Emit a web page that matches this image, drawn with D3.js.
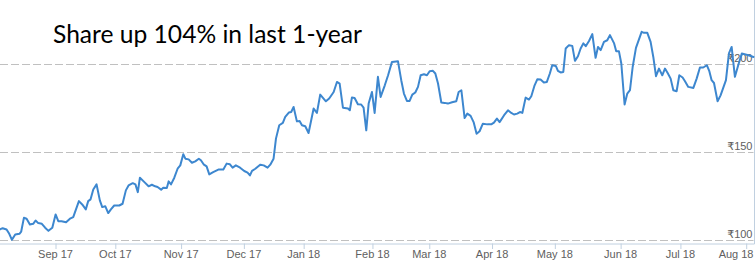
<!DOCTYPE html>
<html><head><meta charset="utf-8">
<script src="https://cdn.jsdelivr.net/npm/d3@7"></script>
<style>html,body{margin:0;padding:0;background:#fff;}svg{display:block}</style>
</head><body>
<svg id="c" width="756" height="264"></svg>
<script>
// trading-session index (0 ≈ mid Aug 2017) and closing price (₹)
const sessions = [-0.4,0.5,1.8,2.7,3.6,4.7,6.1,6.7,7.6,8.5,
9.6,10.7,11.5,12.4,13.6,14.7,15.8,17.1,18.2,19.1,
20.2,21.7,23.0,24.1,26.0,27.1,28.3,29.1,29.9,30.8,
31.9,33.0,33.8,34.8,35.8,36.7,37.8,39.5,40.6,41.7,
42.6,44.0,44.9,45.7,46.4,47.9,49.3,50.4,51.5,52.3,
53.5,54.2,55.4,56.0,56.8,57.9,59.0,59.9,60.9,61.6,
62.7,63.8,64.9,66.1,66.8,67.7,68.7,69.6,70.9,72.8,
74.3,75.4,76.5,77.4,78.5,79.9,81.3,82.4,83.2,83.9,
85.0,85.9,86.7,87.8,89.1,90.0,91.1,91.9,93.0,94.2,
95.0,96.2,97.0,97.8,98.9,99.8,100.6,101.7,102.8,104.5,
105.6,106.7,108.6,109.7,111.2,112.3,113.2,114.3,116.0,116.6,
117.3,118.2,119.3,120.4,121.2,122.1,122.9,124.0,124.9,126.0,
126.9,128.3,129.4,130.7,132.7,133.8,134.7,135.7,136.6,137.5,
138.5,139.4,140.3,141.4,142.4,143.3,144.4,145.2,146.1,147.2,
148.3,149.4,150.8,152.2,153.0,153.9,155.0,155.9,157.0,158.0,
159.0,160.0,161.1,162.6,163.9,164.8,165.8,166.7,168.2,169.5,
170.6,171.5,172.6,173.5,174.3,175.4,176.5,177.3,178.4,179.3,
180.4,181.5,182.5,183.5,184.3,185.5,186.2,187.1,188.0,188.8,
189.9,191.0,191.9,192.9,193.8,194.7,195.5,196.6,197.7,198.8,
199.6,200.5,201.6,202.7,203.6,205.0,205.7,206.6,207.4,208.5,
209.4,210.3,211.2,212.3,214.2,215.0,216.1,217.2,218.1,219.0,
220.0,221.1,222.0,222.9,223.9,224.8,225.9,226.8,227.9,228.7,
229.8,231.5,232.6,233.7,234.8,236.0,236.8,237.6,238.4,239.6,
240.6,242.4,243.4,244.3,245.4,246.5,247.7,249.9,251.6];

const prices = [106.0,106.7,106.0,103.5,100.1,103.1,103.5,104.8,112.6,112.1,
108.8,109.2,111.1,109.6,109.2,107.0,105.2,107.0,114.5,110.7,
110.7,110.1,112.1,113.0,122.1,120.2,117.4,122.1,123.1,128.7,
131.6,122.5,118.7,119.2,115.3,117.4,119.6,119.6,120.6,128.2,
131.0,132.3,131.6,127.2,135.4,132.9,130.5,131.4,130.5,130.1,
128.6,129.7,129.5,133.3,131.6,135.4,140.5,142.4,148.7,146.2,
145.8,143.9,144.7,146.2,145.3,143.0,141.8,137.3,138.6,140.1,
140.0,143.4,143.0,141.1,142.4,141.1,139.2,138.3,136.7,139.3,
140.5,141.8,142.8,142.4,141.1,142.8,146.2,157.6,165.2,166.5,
169.9,172.4,172.7,175.6,167.4,167.6,165.2,164.6,160.8,174.7,
172.2,182.6,178.8,180.4,184.1,189.8,188.9,175.2,174.7,173.7,
180.9,180.7,177.1,177.0,175.2,162.3,177.5,184.1,172.2,192.7,
181.3,187.9,193.6,201.2,201.6,190.8,183.2,179.0,179.0,182.6,
183.8,187.0,193.6,194.2,193.6,195.9,196.1,194.6,188.9,178.1,
177.9,177.5,178.3,178.8,184.1,185.1,169.3,171.8,170.5,167.0,
160.4,161.8,166.1,165.7,165.7,166.7,169.0,167.0,170.9,173.7,
172.2,171.3,171.8,172.7,172.2,180.9,179.8,181.7,187.9,191.3,
191.2,189.5,189.8,194.6,199.3,198.9,196.1,195.2,195.5,208.8,
210.7,210.3,201.8,204.4,208.8,211.7,210.1,213.1,217.0,203.5,
209.7,207.9,212.6,213.5,216.4,211.7,207.3,207.3,200.3,177.0,
183.2,185.1,198.3,209.2,218.3,217.7,217.7,212.6,204.0,193.1,
197.4,193.6,197.4,194.9,191.7,185.1,184.5,193.6,192.3,190.2,
187.0,186.4,191.7,198.0,198.0,199.3,196.1,190.8,189.2,178.8,
182.2,190.8,206.0,209.7,192.7,199.3,206.0,205.0,204.0];

const monthLabels = ["Sep 17","Oct 17","Nov 17","Dec 17","Jan 18","Feb 18","Mar 18","Apr 18","May 18","Jun 18","Jul 18","Aug 18"];
const monthSessions = [18,38,60,81,101,124,143,164,185,207,227,249];
const priceTicks = [100,150,200];
const titleText = "Share up 104% in last 1-year";

const svg = d3.select("#c");
const x = d3.scaleLinear().domain([0,250]).range([1.18,748.68]);
const y = d3.scaleLinear().domain([100,200]).range([240,64]);
const axisY = 243.5, rightX = 754.5;
const labelFont = "'Liberation Sans','DejaVu Sans',Arial,sans-serif";

svg.append("rect").attr("width",756).attr("height",264).attr("fill","#fff");

// grid lines
svg.append("g").selectAll("line").data(priceTicks).join("line")
  .attr("x1",0).attr("x2",rightX-1)
  .attr("y1",d=>y(d)+0.5).attr("y2",d=>y(d)+0.5)
  .attr("stroke","#c0c0c0").attr("stroke-width",1).attr("stroke-dasharray","8,3");

// y labels (right side)
svg.append("g").selectAll("text").data(priceTicks).join("text")
  .attr("x",rightX-2).attr("y",d=>y(d)-2.5)
  .attr("text-anchor","end").attr("font-family",labelFont).attr("font-size",11)
  .attr("fill","#606060").text(d=>"₹"+d);

// x axis
const xAxis = d3.axisBottom(x).tickValues(monthSessions)
  .tickFormat((d,i)=>monthLabels[i]).tickSize(5.5).tickSizeOuter(0);
const gx = svg.append("g").attr("transform",`translate(0,${axisY})`).call(xAxis);
gx.select(".domain").attr("d",`M0,0.5H${rightX}`).attr("stroke","#c0d0e0");
gx.selectAll(".tick line").attr("stroke","#c0d0e0").attr("transform","translate(0.5,0)");
gx.selectAll(".tick text").attr("font-family",labelFont).attr("font-size",11)
  .attr("fill","#606060").attr("dy",0).attr("y",14.2);
gx.selectAll(".tick text").each(function(){
  const t=d3.select(this);
  const tr=this.parentNode.getAttribute("transform");
  const tx=+/translate\(([-\d.]+)/.exec(tr)[1];
  const w=this.getComputedTextLength();
  if (tx+w/2>rightX-1) t.attr("x",(rightX-1)-(tx+w/2));
});

// right border line
svg.append("line").attr("x1",rightX).attr("x2",rightX).attr("y1",0).attr("y2",axisY+0.5)
  .attr("stroke","#c0d0e0").attr("stroke-width",1);

// price line
const pts = sessions.map((s,i)=>[s,prices[i]]);
svg.append("path").datum(pts)
  .attr("d",d3.line().x(d=>x(d[0])).y(d=>y(d[1])))
  .attr("fill","none").attr("stroke","#3d87cf").attr("stroke-width",2)
  .attr("stroke-linejoin","round").attr("stroke-linecap","round");

// title
svg.append("text").attr("x",53).attr("y",42.5)
  .attr("font-family","Lato,'Open Sans',sans-serif").attr("font-size",24.6)
  .attr("fill","#000").text(titleText);
</script>
</body></html>
